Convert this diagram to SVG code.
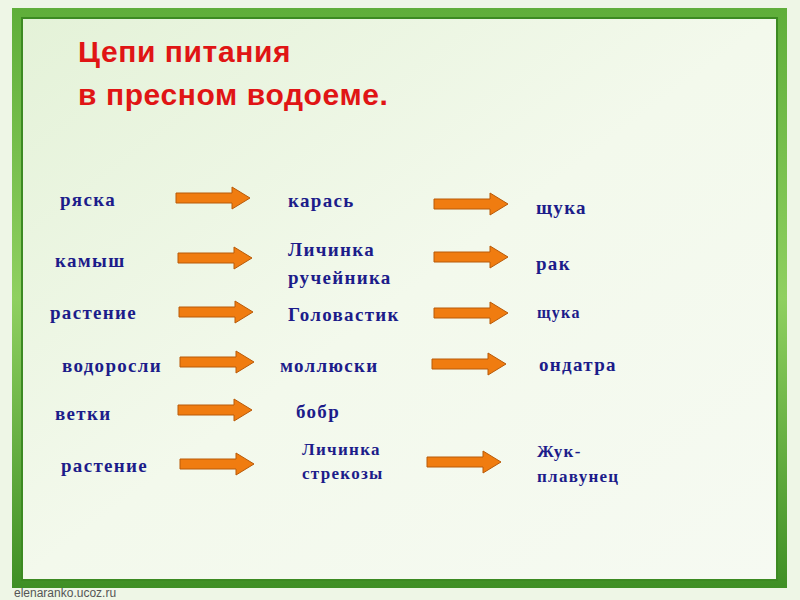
<svg xmlns="http://www.w3.org/2000/svg" width="800" height="600" viewBox="0 0 800 600">
<defs>
<linearGradient id="bg" x1="0" y1="0" x2="1" y2="1"><stop offset="0" stop-color="#e4f2d8"/><stop offset="0.5" stop-color="#f3f9ec"/><stop offset="1" stop-color="#f6faf2"/></linearGradient>
<linearGradient id="fr" x1="0" y1="0" x2="0" y2="1"><stop offset="0" stop-color="#5fae3a"/><stop offset="0.5" stop-color="#8fd060"/><stop offset="1" stop-color="#3f8f25"/></linearGradient>
<polygon id="ar" points="0,-5 56,-5 56,-11 74,0 56,11 56,5 0,5" fill="#f07c10" stroke="#b85a08" stroke-width="1"/>
</defs>
<style>
.t{font-family:"Liberation Serif",serif;font-weight:bold;font-size:19px;letter-spacing:1.3px;fill:#1c1c8a}
.h{font-family:"Liberation Sans",sans-serif;font-weight:bold;font-size:30px;letter-spacing:0.6px;fill:#e01515}
.f{font-family:"Liberation Sans",sans-serif;font-size:12px;fill:#555}
</style>
<rect width="800" height="600" fill="#eef6e6"/>
<rect x="12" y="8" width="775" height="580" fill="url(#fr)"/>
<rect x="22" y="18" width="755" height="562" fill="url(#bg)" stroke="#3c8a22" stroke-width="2"/>
<text class="f" x="14" y="597">elenaranko.ucoz.ru</text>
<g id="title"><text class="h" x="78" y="62">Цепи питания</text><text class="h" x="78" y="105">в пресном водоеме.</text></g>
<g id="nodes">
<g id="n1"><text class="t" x="60" y="206">ряска</text></g>
<g id="n2"><text class="t" x="288" y="207">карась</text></g>
<g id="n3"><text class="t" x="536" y="214">щука</text></g>
<g id="n4"><text class="t" x="55" y="267">камыш</text></g>
<g id="n5"><text class="t" x="288" y="256">Личинка</text><text class="t" x="288" y="284">ручейника</text></g>
<g id="n6"><text class="t" x="536" y="270">рак</text></g>
<g id="n7"><text class="t" x="50" y="319">растение</text></g>
<g id="n8"><text class="t" x="288" y="321">Головастик</text></g>
<g id="n9"><text class="t" x="537" y="318" style="font-size:16px">щука</text></g>
<g id="n10"><text class="t" x="62" y="372">водоросли</text></g>
<g id="n11"><text class="t" x="280" y="372">моллюски</text></g>
<g id="n12"><text class="t" x="539" y="371">ондатра</text></g>
<g id="n13"><text class="t" x="55" y="420">ветки</text></g>
<g id="n14"><text class="t" x="296" y="418">бобр</text></g>
<g id="n15"><text class="t" x="61" y="472">растение</text></g>
<g id="n16"><text class="t" x="302" y="455" style="font-size:17px">Личинка</text><text class="t" x="302" y="479" style="font-size:17px">стрекозы</text></g>
<g id="n17"><text class="t" x="537" y="457" style="font-size:17px">Жук-</text><text class="t" x="537" y="482" style="font-size:17px">плавунец</text></g>
</g>
<g id="connectors">
<use href="#ar" x="176" y="198"/><use href="#ar" x="434" y="204"/>
<use href="#ar" x="178" y="258"/><use href="#ar" x="434" y="257"/>
<use href="#ar" x="179" y="312"/><use href="#ar" x="434" y="313"/>
<use href="#ar" x="180" y="362"/><use href="#ar" x="432" y="364"/>
<use href="#ar" x="178" y="410"/>
<use href="#ar" x="180" y="464"/><use href="#ar" x="427" y="462"/>
</g>
</svg>
